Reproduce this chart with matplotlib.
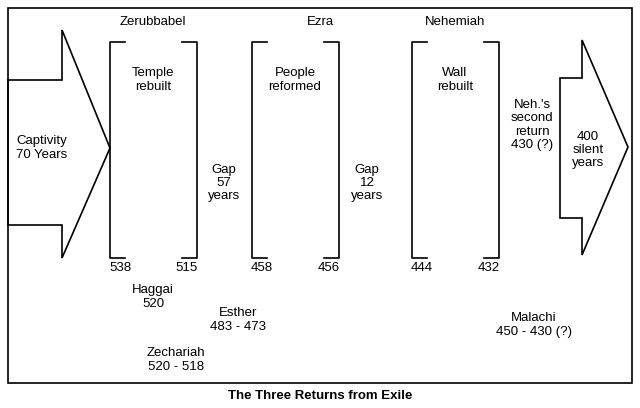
import matplotlib
matplotlib.use("Agg")
import matplotlib.pyplot as plt
from matplotlib.patches import Polygon, Rectangle

leaders = ["Zerubbabel", "Ezra", "Nehemiah"]
works = ["Temple\nrebuilt", "People\nreformed", "Wall\nrebuilt"]
start_years = ["538", "458", "444"]
end_years = ["515", "456", "432"]
gaps = ["Gap\n57\nyears", "Gap\n12\nyears"]
prophets = ["Haggai\n520", "Esther\n483 - 473", "Zechariah\n520 - 518", "Malachi\n450 - 430 (?)"]

fig = plt.figure(figsize=(6.4, 4.08), dpi=100)
ax = fig.add_axes([0, 0, 1, 1])
ax.set_xlim(0, 640); ax.set_ylim(408, 0); ax.axis("off")
fs = 9.5
kw = dict(ha="center", va="center", fontsize=fs, family="Liberation Sans", linespacing=1.15)

ax.add_patch(Rectangle((8, 8), 624, 375, fill=False, lw=1.2, color="k"))
ax.text(320, 396, "The Three Returns from Exile", ha="center", va="center",
        fontsize=fs, fontweight="bold", family="Liberation Sans")

ax.add_patch(Polygon([(8, 80), (62, 80), (62, 30), (110, 148), (62, 258), (62, 225), (8, 225)],
                     closed=True, fill=False, lw=1.2, ec="k"))
ax.text(42, 148, "Captivity\n70 Years", **kw)

ax.add_patch(Polygon([(560, 78), (582, 78), (582, 40), (628, 147), (582, 255), (582, 218), (560, 218)],
                     closed=True, fill=False, lw=1.2, ec="k"))
ax.text(588, 150, "400\nsilent\nyears", **kw)

lefts = [110, 252, 412]
width = 87
work_x = [153, 295, 455]
leader_x = [153, 320, 455]
for i, L in enumerate(lefts):
    R = L + width
    ax.plot([L + 15, L, L, L + 15], [42, 42, 258, 258], color="k", lw=1.2)
    ax.plot([R - 15, R, R, R - 15], [42, 42, 258, 258], color="k", lw=1.2)
    ax.text(leader_x[i], 22, leaders[i], **kw)
    ax.text(work_x[i], 80, works[i], **kw)
    ax.text(L + 10, 268, start_years[i], **kw)
    ax.text(R - 10, 268, end_years[i], **kw)

ax.text(224, 183, gaps[0], **kw)
ax.text(367, 183, gaps[1], **kw)
ax.text(532, 125, "Neh.'s\nsecond\nreturn\n430 (?)", **kw)

prophet_pos = [(153, 297), (238, 320), (176, 360), (534, 325)]
for t, (x, y) in zip(prophets, prophet_pos):
    ax.text(x, y, t, **kw)

fig.savefig("out.png", dpi=100, facecolor="white")
